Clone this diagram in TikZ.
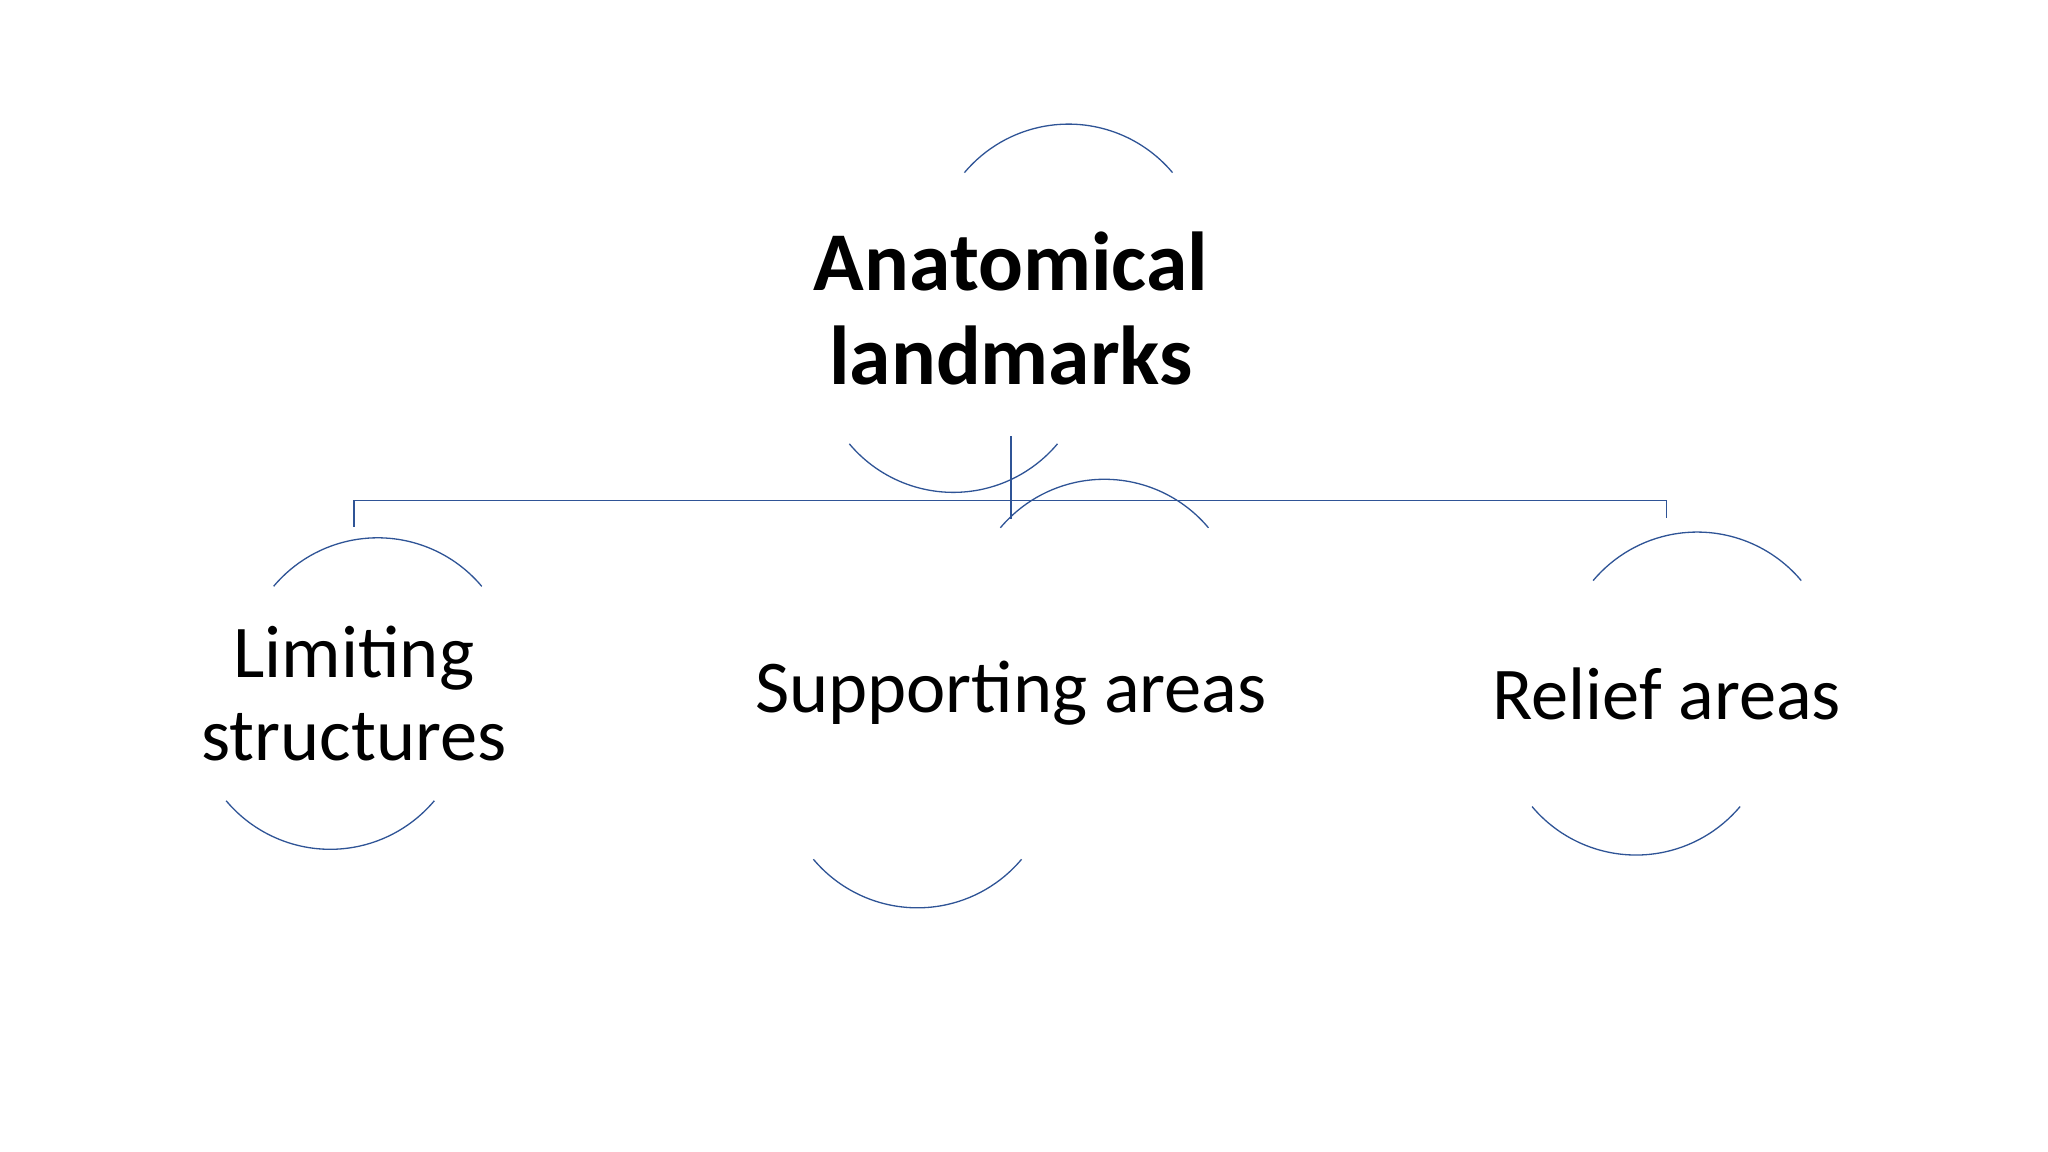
\documentclass[tikz,border=0pt]{standalone}
\usepackage{fontspec}
\setmainfont{Carlito}
\tikzset{every picture/.style={line width=0.75pt}}
\tikzset{
  hub/.style={circle, minimum size=208pt, inner sep=0pt, outer sep=0pt, align=center},
  arcline/.style={draw={rgb, 255:red, 47; green, 84; blue, 150}, line width=1pt},
}
\begin{document}
\begin{tikzpicture}[x=1pt,y=1pt,yscale=-1,xscale=1]
\useasboundingbox (0,0) rectangle (1568,882);

% Text Node
\node [hub, font=\fontsize{64}{72}\selectfont\bfseries] (top) at (774,236) {Anatomical\\landmarks};
% Text Node
\node [hub, font=\fontsize{57}{64}\selectfont] (lim) at (271,531) {Limiting\\structures};
% Text Node
\node [hub, font=\fontsize{57}{64}\selectfont] (sup) at (774,531) {Supporting areas};
% Text Node
\node [hub, font=\fontsize{57}{64}\selectfont] (rel) at (1276,531) {Relief areas};

%Shape: Arc
\foreach \n in {top,lim,sup,rel}{
  \draw [arcline] (\n.40) arc [start angle=-40, end angle=-140, radius=104];
  \draw [arcline] (\n.220) arc [start angle=140, end angle=40, radius=104];
}

%Straight Lines
\coordinate (bus) at (774,383);
\draw [arcline] (top.south) -- (bus) -- (sup.north);
\draw [arcline] (lim.north) |- (bus) -| (rel.north);

\end{tikzpicture}
\end{document}
